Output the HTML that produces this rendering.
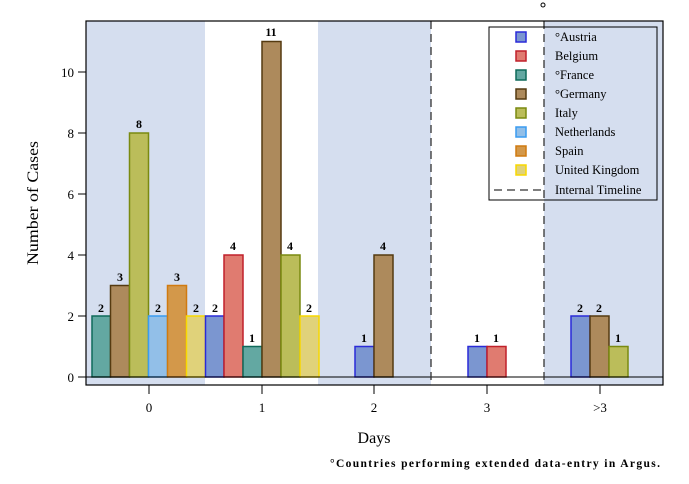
<!DOCTYPE html>
<html><head><meta charset="utf-8"><style>body{margin:0;background:#fff}svg{display:block}text{font-family:"Liberation Serif",serif;fill:#000}</style></head><body>
<svg width="689" height="484" viewBox="0 0 689 484" xmlns="http://www.w3.org/2000/svg">
<rect x="86" y="21" width="119" height="364" fill="#d5deef"/>
<rect x="318" y="21" width="113" height="364" fill="#d5deef"/>
<rect x="544" y="21" width="119" height="364" fill="#d5deef"/>
<g stroke-width="1.5">
<rect x="92" y="316" width="18.5" height="61" fill="#63a8a2" stroke="#0e6a5a"/>
<rect x="110.5" y="285.5" width="19" height="91.5" fill="#ad8a5c" stroke="#553a10"/>
<rect x="129.5" y="133" width="19" height="244" fill="#bbbd5a" stroke="#7a8a10"/>
<rect x="148.5" y="316" width="19" height="61" fill="#92bfe8" stroke="#3a9cf0"/>
<rect x="167.5" y="285.5" width="19" height="91.5" fill="#d3984a" stroke="#d07a10"/>
<rect x="186.5" y="316" width="19" height="61" fill="#e0d27a" stroke="#f8d800"/>
<rect x="205.5" y="316" width="18.5" height="61" fill="#7b96d0" stroke="#2a2ad8"/>
<rect x="224" y="255" width="19" height="122" fill="#e07b70" stroke="#c0202a"/>
<rect x="243" y="346.5" width="19" height="30.5" fill="#63a8a2" stroke="#0e6a5a"/>
<rect x="262" y="41.5" width="19" height="335.5" fill="#ad8a5c" stroke="#553a10"/>
<rect x="281" y="255" width="19" height="122" fill="#bbbd5a" stroke="#7a8a10"/>
<rect x="300" y="316" width="19" height="61" fill="#e0d27a" stroke="#f8d800"/>
<rect x="355" y="346.5" width="19" height="30.5" fill="#7b96d0" stroke="#2a2ad8"/>
<rect x="374" y="255" width="19" height="122" fill="#ad8a5c" stroke="#553a10"/>
<rect x="468" y="346.5" width="19" height="30.5" fill="#7b96d0" stroke="#2a2ad8"/>
<rect x="487" y="346.5" width="19" height="30.5" fill="#e07b70" stroke="#c0202a"/>
<rect x="571" y="316" width="19" height="61" fill="#7b96d0" stroke="#2a2ad8"/>
<rect x="590" y="316" width="19" height="61" fill="#ad8a5c" stroke="#553a10"/>
<rect x="609" y="346.5" width="19" height="30.5" fill="#bbbd5a" stroke="#7a8a10"/>
</g>
<g font-size="12" font-weight="bold" text-anchor="middle">
<text x="101" y="312">2</text><text x="120" y="281">3</text><text x="139" y="128">8</text><text x="158" y="312">2</text><text x="177" y="281">3</text><text x="196" y="312">2</text>
<text x="215" y="312">2</text><text x="233" y="250">4</text><text x="252" y="342">1</text><text x="271" y="36">11</text><text x="290" y="250">4</text><text x="309" y="312">2</text>
<text x="364" y="342">1</text><text x="383" y="250">4</text>
<text x="477" y="342">1</text><text x="496" y="342">1</text>
<text x="580" y="312">2</text><text x="599" y="312">2</text><text x="618" y="342">1</text>
</g>
<line x1="86" y1="377" x2="663" y2="377" stroke="#000" stroke-width="1"/>
<line x1="431" y1="21" x2="431" y2="385" stroke="#333" stroke-width="1.3" stroke-dasharray="8,5"/>
<line x1="544" y1="21" x2="544" y2="385" stroke="#333" stroke-width="1.3" stroke-dasharray="8,5"/>
<rect x="86" y="21" width="577" height="364" fill="none" stroke="#000" stroke-width="1.2"/>
<circle cx="543" cy="5" r="2" fill="none" stroke="#000" stroke-width="1"/>
<g stroke="#000"><line x1="78" y1="377" x2="86" y2="377"/><line x1="78" y1="316" x2="86" y2="316"/><line x1="78" y1="255" x2="86" y2="255"/><line x1="78" y1="194" x2="86" y2="194"/><line x1="78" y1="133" x2="86" y2="133"/><line x1="78" y1="72" x2="86" y2="72"/>
<line x1="149" y1="385" x2="149" y2="394"/><line x1="262" y1="385" x2="262" y2="394"/><line x1="374" y1="385" x2="374" y2="394"/><line x1="487" y1="385" x2="487" y2="394"/><line x1="600" y1="385" x2="600" y2="394"/></g>
<g font-size="13" text-anchor="end"><text x="74" y="382">0</text><text x="74" y="321">2</text><text x="74" y="260">4</text><text x="74" y="199">6</text><text x="74" y="138">8</text><text x="74" y="77">10</text></g>
<g font-size="13" text-anchor="middle"><text x="149" y="412">0</text><text x="262" y="412">1</text><text x="374" y="412">2</text><text x="487" y="412">3</text><text x="600" y="412">&gt;3</text></g>
<text x="374" y="443" font-size="16" text-anchor="middle">Days</text>
<text transform="translate(38,203) rotate(-90)" font-size="16" text-anchor="middle" textLength="124" lengthAdjust="spacingAndGlyphs">Number of Cases</text>
<text x="330" y="467" font-size="11.5" font-weight="bold" textLength="330" lengthAdjust="spacing">°Countries performing extended data-entry in Argus.</text>
<rect x="489" y="27" width="168" height="173" fill="none" stroke="#000" stroke-width="1"/>
<g stroke-width="1.5">
<rect x="516" y="32" width="10" height="10" fill="#7b96d0" stroke="#2a2ad8"/>
<rect x="516" y="51" width="10" height="10" fill="#e07b70" stroke="#c0202a"/>
<rect x="516" y="70" width="10" height="10" fill="#63a8a2" stroke="#0e6a5a"/>
<rect x="516" y="89" width="10" height="10" fill="#ad8a5c" stroke="#553a10"/>
<rect x="516" y="108" width="10" height="10" fill="#bbbd5a" stroke="#7a8a10"/>
<rect x="516" y="127" width="10" height="10" fill="#92bfe8" stroke="#3a9cf0"/>
<rect x="516" y="146" width="10" height="10" fill="#d3984a" stroke="#d07a10"/>
<rect x="516" y="165" width="10" height="10" fill="#e0d27a" stroke="#f8d800"/>
</g>
<line x1="494" y1="190" x2="545" y2="190" stroke="#333" stroke-width="1.3" stroke-dasharray="8,5"/>
<g font-size="12.5"><text x="555" y="41">°Austria</text><text x="555" y="60">Belgium</text><text x="555" y="79">°France</text><text x="555" y="98">°Germany</text><text x="555" y="117">Italy</text><text x="555" y="136">Netherlands</text><text x="555" y="155">Spain</text><text x="555" y="174">United Kingdom</text><text x="555" y="194">Internal Timeline</text></g>
</svg>
</body></html>
